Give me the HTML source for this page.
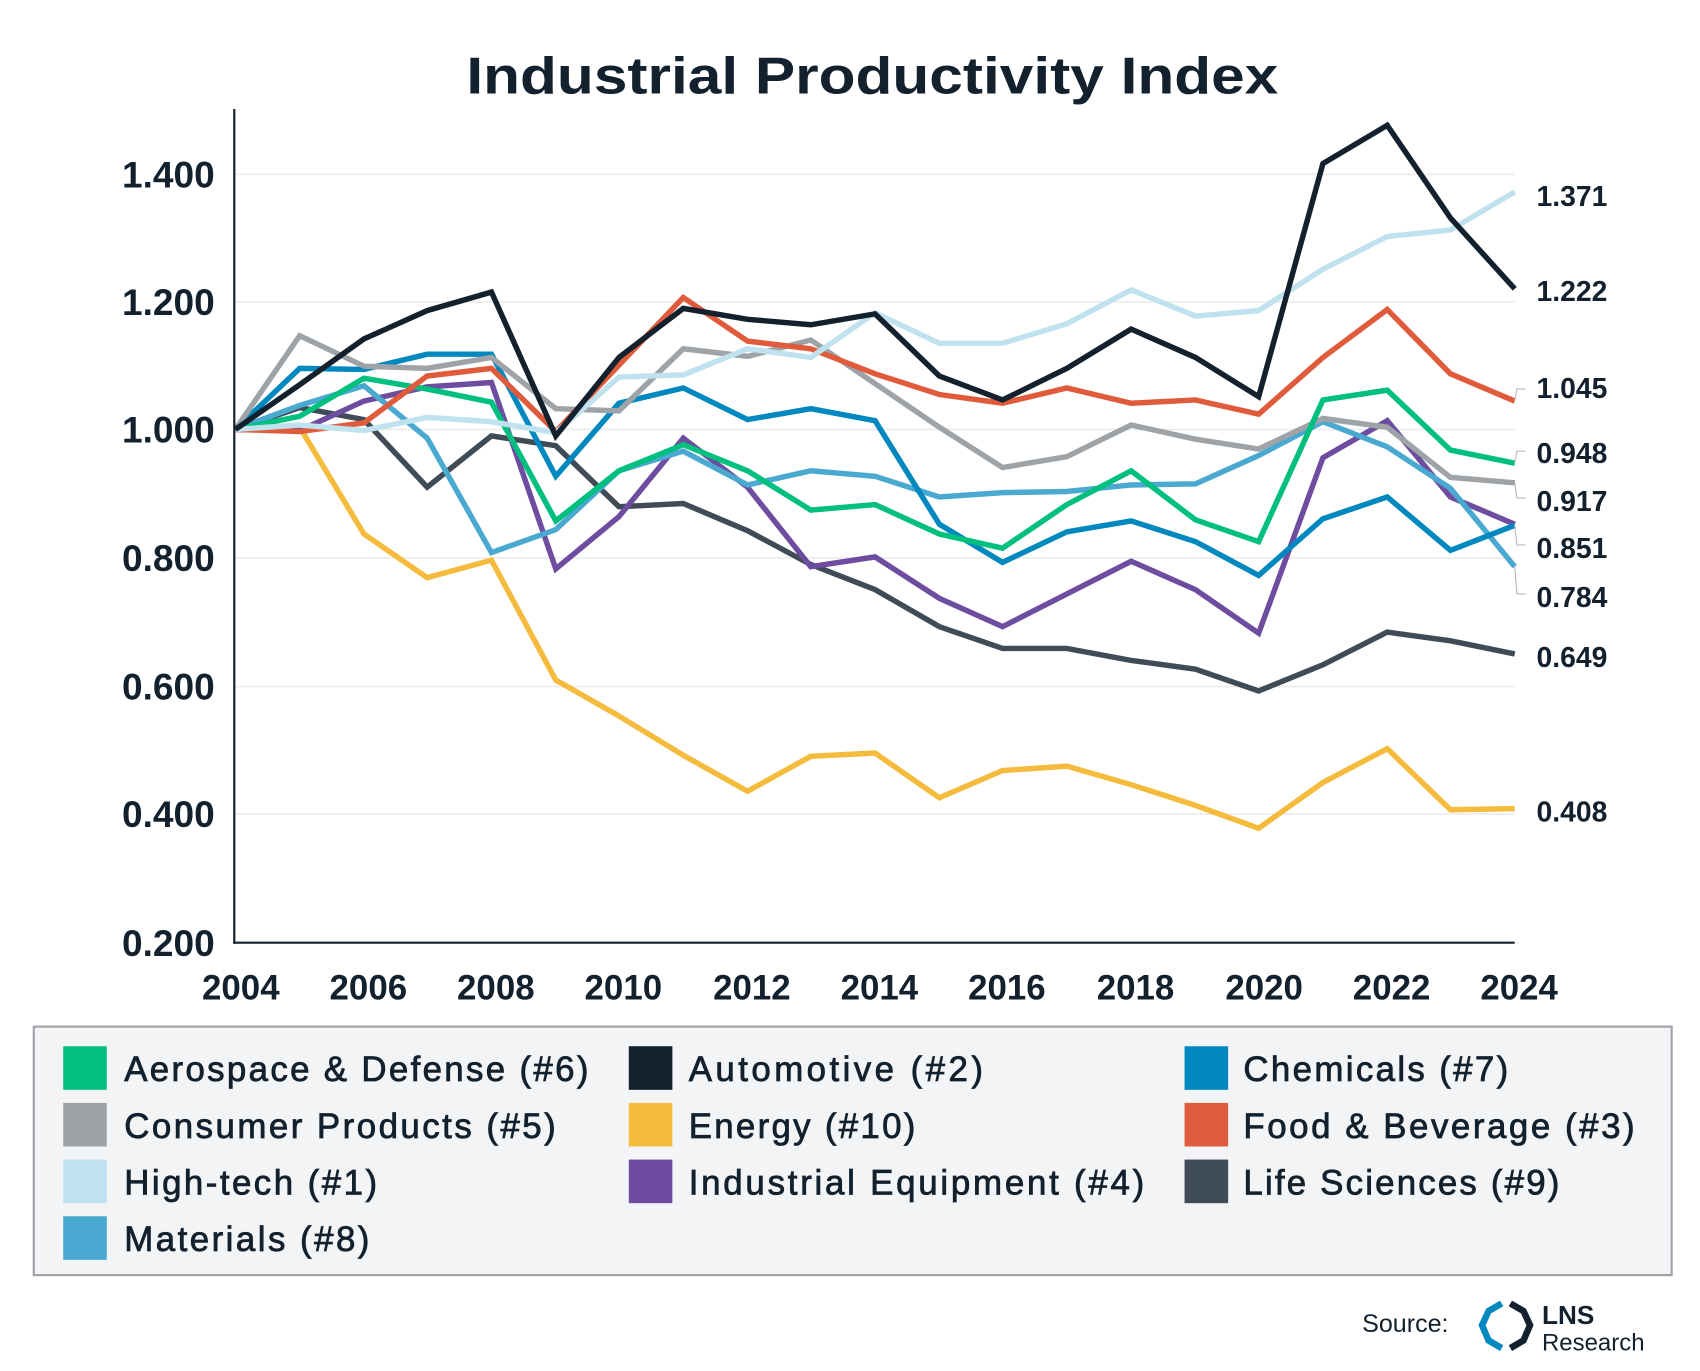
<!DOCTYPE html>
<html><head><meta charset="utf-8"><style>
html,body{margin:0;padding:0;background:#fff}
svg{display:block}
text{font-family:"Liberation Sans",sans-serif}
</style></head><body>
<svg width="1700" height="1371" viewBox="0 0 1560 1258" preserveAspectRatio="none" xmlns="http://www.w3.org/2000/svg">
<rect width="1560" height="1258" fill="#fff"/>
<text x="428" y="86" font-size="48" font-weight="bold" fill="#13212e" textLength="745" lengthAdjust="spacingAndGlyphs">Industrial Productivity Index</text>
<g stroke="#ececec" stroke-width="1.5">
<line x1="216" x2="1390" y1="160" y2="160"/><line x1="216" x2="1390" y1="277" y2="277"/><line x1="216" x2="1390" y1="394" y2="394"/><line x1="216" x2="1390" y1="512" y2="512"/><line x1="216" x2="1390" y1="630" y2="630"/><line x1="216" x2="1390" y1="747" y2="747"/>
</g>
<g font-size="34" font-weight="bold" fill="#13212e" text-anchor="end">
<text x="197" y="172">1.400</text><text x="197" y="289">1.200</text><text x="197" y="406">1.000</text><text x="197" y="524">0.800</text><text x="197" y="642">0.600</text><text x="197" y="759">0.400</text><text x="197" y="877">0.200</text>
</g>
<g font-size="32" font-weight="bold" fill="#13212e" text-anchor="middle">
<text x="221" y="917">2004</text><text x="338" y="917">2006</text><text x="455" y="917">2008</text><text x="572" y="917">2010</text><text x="690" y="917">2012</text><text x="807" y="917">2014</text><text x="924" y="917">2016</text><text x="1042" y="917">2018</text><text x="1160" y="917">2020</text><text x="1277" y="917">2022</text><text x="1394" y="917">2024</text>
</g>
<g fill="none" stroke-width="5" stroke-linejoin="miter">
<polyline stroke="#f4bb3c" points="216,394 275,392 334,490 392,530 451,514 510,624 568,657 627,693 686,726 744,694 803,691 862,732 920,707 979,703 1038,720 1097,739 1155,760 1214,718 1273,687 1331,743 1390,742"/>
<polyline stroke="#3f4b56" points="216,394 275,374 334,385 392,447 451,400 510,409 568,465 627,462 686,487 744,518 803,541 862,575 920,595 979,595 1038,606 1097,614 1155,634 1214,610 1273,580 1331,588 1390,600"/>
<polyline stroke="#6e4ca0" points="216,394 275,395 334,368 392,355 451,351 510,522 568,474 627,402 686,447 744,520 803,511 862,549 920,575 979,545 1038,515 1097,541 1155,581 1214,420 1273,386 1331,456 1390,481"/>
<polyline stroke="#4aa9d0" points="216,394 275,372 334,354 392,402 451,507 510,486 568,432 627,414 686,445 744,432 803,437 862,456 920,452 979,451 1038,445 1097,444 1155,418 1214,387 1273,410 1331,448 1390,520"/>
<polyline stroke="#0088bf" points="216,394 275,338 334,339 392,325 451,325 510,437 568,370 627,356 686,385 744,375 803,386 862,481 920,516 979,488 1038,478 1097,497 1155,528 1214,476 1273,456 1331,505 1390,482"/>
<polyline stroke="#9ea3a8" points="216,394 275,308 334,336 392,338 451,328 510,375 568,377 627,320 686,327 744,312 803,352 862,392 920,429 979,419 1038,390 1097,403 1155,412 1214,384 1273,392 1331,438 1390,443"/>
<polyline stroke="#00bf7f" points="216,394 275,382 334,347 392,357 451,369 510,478 568,432 627,408 686,432 744,468 803,463 862,490 920,503 979,463 1038,432 1097,477 1155,497 1214,367 1273,358 1331,413 1390,425"/>
<polyline stroke="#e05b3b" points="216,394 275,396 334,388 392,345 451,338 510,396 568,335 627,273 686,313 744,320 803,343 862,362 920,370 979,356 1038,370 1097,367 1155,380 1214,328 1273,284 1331,343 1390,368"/>
<polyline stroke="#bfe2ee" points="216,394 275,390 334,395 392,383 451,387 510,397 568,346 627,344 686,320 744,328 803,287 862,315 920,315 979,297 1038,266 1097,290 1155,285 1214,247 1273,217 1331,211 1390,176"/>
<polyline stroke="#13212e" points="216,394 275,353 334,311 392,285 451,268 510,400 568,328 627,283 686,293 744,298 803,288 862,345 920,367 979,338 1038,302 1097,328 1155,364 1214,150 1273,115 1331,200 1390,265"/>
</g>
<g stroke="#13212e" stroke-width="2"><line x1="215" y1="100" x2="215" y2="866"/><line x1="214" y1="865" x2="1390" y2="865"/></g>
<g fill="none" stroke="#b5b8bb" stroke-width="1"><path d="M1390 368 L1392 357 L1400 357"/><path d="M1390 425 L1392 414 L1400 414"/><path d="M1390 443 L1392 457 L1400 457"/><path d="M1390 482 L1392 500 L1400 500"/><path d="M1390 520 L1392 545 L1400 545"/></g>
<g font-size="26" font-weight="bold" fill="#13212e">
<text x="1410" y="189">1.371</text><text x="1410" y="276">1.222</text><text x="1410" y="365">1.045</text><text x="1410" y="425">0.948</text><text x="1410" y="469">0.917</text><text x="1410" y="512">0.851</text><text x="1410" y="557">0.784</text><text x="1410" y="612">0.649</text><text x="1410" y="754">0.408</text>
</g>
<rect x="31" y="942" width="1503" height="228" fill="#f3f4f6" stroke="#a0a4a8" stroke-width="2"/>
<g>
<rect x="58" y="960" width="40" height="40" fill="#00bf7f"/><rect x="577" y="960" width="40" height="40" fill="#13212e"/><rect x="1087" y="960" width="40" height="40" fill="#0088bf"/>
<rect x="58" y="1012" width="40" height="40" fill="#9ea3a8"/><rect x="577" y="1012" width="40" height="40" fill="#f4bb3c"/><rect x="1087" y="1012" width="40" height="40" fill="#e05b3b"/>
<rect x="58" y="1064" width="40" height="40" fill="#bfe2ee"/><rect x="577" y="1064" width="40" height="40" fill="#6e4ca0"/><rect x="1087" y="1064" width="40" height="40" fill="#3f4b56"/>
<rect x="58" y="1116" width="40" height="40" fill="#4aa9d0"/>
</g>
<g font-size="32" fill="#13212e" stroke="#13212e" stroke-width="0.7" lengthAdjust="spacingAndGlyphs">
<text x="114" y="992" textLength="426">Aerospace &amp; Defense (#6)</text><text x="632" y="992" textLength="270">Automotive (#2)</text><text x="1141" y="992" textLength="243">Chemicals (#7)</text>
<text x="114" y="1044" textLength="396">Consumer Products (#5)</text><text x="632" y="1044" textLength="208">Energy (#10)</text><text x="1141" y="1044" textLength="359">Food &amp; Beverage (#3)</text>
<text x="114" y="1096" textLength="232">High-tech (#1)</text><text x="632" y="1096" textLength="418">Industrial Equipment (#4)</text><text x="1141" y="1096" textLength="290">Life Sciences (#9)</text>
<text x="114" y="1148" textLength="225">Materials (#8)</text>
</g>
<text x="1250" y="1222" font-size="23" fill="#13212e">Source:</text>
<path d="M1378 1196 L1366 1203 L1360 1216 L1366 1230 L1378 1237" fill="none" stroke="#0088bf" stroke-width="6"/>
<path d="M1386 1196 L1398 1203 L1404 1216 L1398 1230 L1386 1237" fill="none" stroke="#13212e" stroke-width="6"/>
<text x="1415" y="1215" font-size="24" font-weight="bold" fill="#13212e">LNS</text>
<text x="1415" y="1239" font-size="22" fill="#13212e">Research</text>
</svg>
</body></html>
